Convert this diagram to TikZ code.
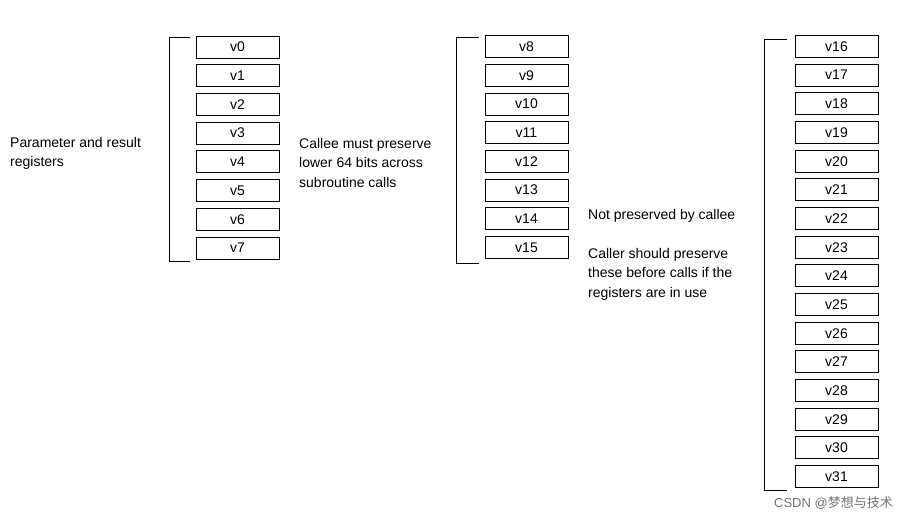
\documentclass[tikz,border=0pt]{standalone}
\usepackage{fontspec}
\setmainfont{Liberation Sans}
\newfontfamily\cjk{Noto Sans CJK SC}
\usetikzlibrary{positioning}

\begin{document}
\begin{tikzpicture}[
    x=1pt, y=-1pt,
    reg/.style={rectangle, draw, thick, minimum width=83pt, minimum height=22pt, inner sep=0pt, font=\fontsize{14}{16}\selectfont},
    note/.style={anchor=north west, align=left, inner sep=0pt, font=\fontsize{14}{19.5}\selectfont},
    brace/.style={thick}
]
    \useasboundingbox (0,0) rectangle (907,520);
    % register boxes
    \foreach \i in {0,...,7}
        \node[reg] (r\i) at (237.5, 47+28.7*\i) {v\i};
    \foreach \i in {8,...,15}
        \node[reg] (r\i) at (526.5, 46.5+28.7*\i-28.7*8) {v\i};
    \foreach \i in {16,...,31}
        \node[reg] (r\i) at (836.5, 46.5+28.67*\i-28.67*16) {v\i};

    % brackets
    \draw[brace] (190,37) -- (169,37) -- (169,261) -- (190,261);
    \draw[brace] (479,37) -- (456,37) -- (456,263) -- (479,263);
    \draw[brace] (787,39) -- (764,39) -- (764,490) -- (787,490);

    % notes
    \node[note] (param) at (10,137) {Parameter and result\\registers};
    \node[note] (callee) at (299,138) {Callee must preserve\\lower 64 bits across\\subroutine calls};
    \node[note] (notpres) at (588,209) {Not preserved by callee};
    \node[note] (caller) at (588,248) {Caller should preserve\\these before calls if the\\registers are in use};

    \node[anchor=south east, inner sep=0pt, text=black!55, font=\fontsize{13}{15}\selectfont] (mark) at (893,509) {CSDN @{\cjk 梦想与技术}};
\end{tikzpicture}
\end{document}
